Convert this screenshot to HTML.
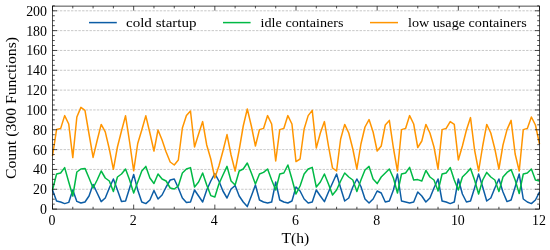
<!DOCTYPE html><html><head><meta charset="utf-8"><style>html,body{margin:0;padding:0;background:#fff;}svg{display:block;}text{font-family:"Liberation Serif",serif;fill:#000;stroke:none;}</style></head><body>
<svg width="550" height="250" viewBox="0 0 550 250">
<rect width="550" height="250" fill="#fff"/>
<g stroke="#b0b0b0" stroke-width="0.7" stroke-dasharray="2.4 1.3"><line x1="52.5" y1="189.27" x2="539.5" y2="189.27"/><line x1="52.5" y1="169.44" x2="539.5" y2="169.44"/><line x1="52.5" y1="149.61" x2="539.5" y2="149.61"/><line x1="52.5" y1="129.78" x2="539.5" y2="129.78"/><line x1="52.5" y1="109.95" x2="539.5" y2="109.95"/><line x1="52.5" y1="90.12" x2="539.5" y2="90.12"/><line x1="52.5" y1="70.29" x2="539.5" y2="70.29"/><line x1="52.5" y1="50.46" x2="539.5" y2="50.46"/><line x1="52.5" y1="30.63" x2="539.5" y2="30.63"/><line x1="52.5" y1="10.80" x2="539.5" y2="10.80"/></g>
<polyline fill="none" stroke="#0C5DA5" stroke-width="1.5" stroke-linejoin="round" stroke-linecap="butt" points="52.50,190.00 56.56,201.00 60.62,202.00 64.67,203.60 68.73,202.40 72.79,190.00 76.85,201.40 80.91,203.00 84.97,202.00 89.03,196.00 93.08,184.40 97.14,193.00 101.20,201.60 105.26,198.00 109.32,188.00 113.38,179.00 117.43,190.00 121.49,201.60 125.55,201.00 129.61,188.00 133.67,174.40 137.72,190.00 141.78,202.00 145.84,203.60 149.90,200.00 153.96,190.50 158.02,199.00 162.07,195.00 166.13,187.00 170.19,180.00 174.25,179.00 178.31,188.00 182.37,198.00 186.43,202.60 190.48,202.00 194.54,190.00 198.60,196.00 202.66,202.00 206.72,190.00 210.78,181.00 214.83,173.60 218.89,181.00 222.95,191.00 227.01,198.00 231.07,189.00 235.12,185.60 239.18,196.00 243.24,202.00 247.30,206.60 251.36,196.00 255.42,185.00 259.48,200.00 263.53,202.00 267.59,203.00 271.65,202.00 275.71,182.00 279.77,200.00 283.82,202.00 287.88,203.00 291.94,201.00 296.00,187.00 300.06,191.00 304.12,199.00 308.18,203.00 312.23,202.00 316.29,190.00 320.35,196.00 324.41,201.60 328.47,192.00 332.52,183.00 336.58,174.00 340.64,188.00 344.70,201.00 348.76,198.00 352.82,187.00 356.88,179.00 360.93,186.50 364.99,199.00 369.05,203.00 373.11,199.00 377.17,191.00 381.23,193.00 385.28,202.00 389.34,201.00 393.40,190.00 397.46,174.00 401.52,201.00 405.57,202.00 409.63,203.00 413.69,202.00 417.75,192.00 421.81,196.00 425.87,202.00 429.93,198.00 433.98,188.00 438.04,179.00 442.10,201.00 446.16,202.00 450.22,203.60 454.27,202.00 458.33,179.00 462.39,194.00 466.45,202.00 470.51,201.00 474.57,188.00 478.62,174.00 482.68,187.00 486.74,201.00 490.80,198.00 494.86,188.00 498.92,179.00 502.98,192.00 507.03,201.60 511.09,200.00 515.15,187.00 519.21,174.00 523.27,199.00 527.33,202.00 531.38,203.60 535.44,200.00 539.50,192.00"/>
<polyline fill="none" stroke="#00B945" stroke-width="1.5" stroke-linejoin="round" stroke-linecap="butt" points="52.50,190.00 56.56,174.00 60.62,173.00 64.67,167.60 68.73,182.00 72.79,196.00 76.85,172.00 80.91,169.00 84.97,168.40 89.03,178.00 93.08,188.00 97.14,180.00 101.20,171.00 105.26,178.00 109.32,181.00 113.38,191.60 117.43,177.00 121.49,174.00 125.55,169.00 129.61,180.00 133.67,193.00 137.72,182.00 141.78,171.00 145.84,166.40 149.90,178.00 153.96,183.50 158.02,174.00 162.07,179.00 166.13,181.00 170.19,188.00 174.25,189.00 178.31,186.00 182.37,173.00 186.43,169.00 190.48,167.60 194.54,187.00 198.60,182.00 202.66,173.00 206.72,185.00 210.78,195.60 214.83,197.00 218.89,184.00 222.95,175.00 227.01,166.40 231.07,181.00 235.12,185.00 239.18,171.00 243.24,169.00 247.30,163.00 251.36,173.00 255.42,184.00 259.48,174.00 263.53,172.40 267.59,169.00 271.65,180.00 275.71,190.00 279.77,174.00 283.82,173.00 287.88,165.00 291.94,179.00 296.00,194.00 300.06,186.00 304.12,174.00 308.18,169.00 312.23,167.40 316.29,187.00 320.35,182.00 324.41,174.00 328.47,184.00 332.52,195.00 336.58,190.00 340.64,181.00 344.70,173.00 348.76,177.00 352.82,180.00 356.88,191.60 360.93,180.00 364.99,170.00 369.05,166.40 373.11,179.00 377.17,183.60 381.23,177.00 385.28,173.00 389.34,169.00 393.40,178.00 397.46,193.00 401.52,174.00 405.57,173.00 409.63,167.40 413.69,180.00 417.75,179.60 421.81,181.00 425.87,170.40 429.93,177.00 433.98,180.00 438.04,191.00 442.10,174.00 446.16,173.00 450.22,167.60 454.27,180.00 458.33,190.00 462.39,177.00 466.45,173.00 470.51,168.40 474.57,180.00 478.62,194.00 482.68,180.00 486.74,172.40 490.80,177.00 494.86,180.00 498.92,191.60 502.98,177.00 507.03,172.40 511.09,169.60 515.15,180.00 519.21,193.60 523.27,174.00 527.33,173.00 531.38,169.00 535.44,180.00 539.50,181.00"/>
<polyline fill="none" stroke="#FF9500" stroke-width="1.5" stroke-linejoin="round" stroke-linecap="butt" points="52.50,156.00 56.56,129.60 60.62,128.60 64.67,115.60 68.73,124.00 72.79,157.60 76.85,117.00 80.91,107.40 84.97,110.40 89.03,134.00 93.08,157.40 97.14,140.50 101.20,124.40 105.26,131.80 109.32,149.00 113.38,169.30 117.43,147.00 121.49,131.00 125.55,115.80 129.61,142.00 133.67,170.80 137.72,143.50 141.78,130.00 145.84,115.80 149.90,133.00 153.96,151.00 158.02,130.00 162.07,140.00 166.13,152.00 170.19,162.00 174.25,165.00 178.31,160.00 182.37,128.00 186.43,115.60 190.48,111.00 194.54,147.00 198.60,134.00 202.66,121.60 206.72,145.00 210.78,159.00 214.83,178.00 218.89,166.00 222.95,151.00 227.01,134.60 231.07,155.00 235.12,171.00 239.18,150.00 243.24,126.00 247.30,109.00 251.36,126.00 255.42,146.00 259.48,129.60 263.53,128.40 267.59,115.60 271.65,124.00 275.71,161.00 279.77,129.60 283.82,128.40 287.88,115.60 291.94,124.00 296.00,161.60 300.06,159.00 304.12,129.00 308.18,115.60 312.23,110.40 316.29,148.00 320.35,133.00 324.41,121.60 328.47,146.00 332.52,168.00 336.58,171.00 340.64,139.00 344.70,124.40 348.76,133.00 352.82,149.00 356.88,169.00 360.93,144.00 364.99,127.00 369.05,119.60 373.11,132.00 377.17,151.00 381.23,146.00 385.28,125.00 389.34,120.40 393.40,148.00 397.46,171.00 401.52,129.60 405.57,128.40 409.63,115.60 413.69,124.00 417.75,147.50 421.81,141.00 425.87,124.40 429.93,133.00 433.98,147.00 438.04,169.00 442.10,129.60 446.16,128.40 450.22,121.60 454.27,124.40 458.33,160.00 462.39,146.00 466.45,130.00 470.51,117.60 474.57,150.00 478.62,171.00 482.68,146.00 486.74,124.40 490.80,133.00 494.86,149.00 498.92,169.00 502.98,145.00 507.03,129.60 511.09,120.40 515.15,154.00 519.21,171.00 523.27,129.60 527.33,128.40 531.38,117.00 535.44,125.00 539.50,144.00"/>
<path d="M52.5,209.10h4.5M539.5,209.10h-4.5M52.5,204.14h2.3M539.5,204.14h-2.3M52.5,199.19h2.3M539.5,199.19h-2.3M52.5,194.23h2.3M539.5,194.23h-2.3M52.5,189.27h4.5M539.5,189.27h-4.5M52.5,184.31h2.3M539.5,184.31h-2.3M52.5,179.35h2.3M539.5,179.35h-2.3M52.5,174.40h2.3M539.5,174.40h-2.3M52.5,169.44h4.5M539.5,169.44h-4.5M52.5,164.48h2.3M539.5,164.48h-2.3M52.5,159.52h2.3M539.5,159.52h-2.3M52.5,154.57h2.3M539.5,154.57h-2.3M52.5,149.61h4.5M539.5,149.61h-4.5M52.5,144.65h2.3M539.5,144.65h-2.3M52.5,139.69h2.3M539.5,139.69h-2.3M52.5,134.74h2.3M539.5,134.74h-2.3M52.5,129.78h4.5M539.5,129.78h-4.5M52.5,124.82h2.3M539.5,124.82h-2.3M52.5,119.86h2.3M539.5,119.86h-2.3M52.5,114.91h2.3M539.5,114.91h-2.3M52.5,109.95h4.5M539.5,109.95h-4.5M52.5,104.99h2.3M539.5,104.99h-2.3M52.5,100.03h2.3M539.5,100.03h-2.3M52.5,95.08h2.3M539.5,95.08h-2.3M52.5,90.12h4.5M539.5,90.12h-4.5M52.5,85.16h2.3M539.5,85.16h-2.3M52.5,80.20h2.3M539.5,80.20h-2.3M52.5,75.25h2.3M539.5,75.25h-2.3M52.5,70.29h4.5M539.5,70.29h-4.5M52.5,65.33h2.3M539.5,65.33h-2.3M52.5,60.38h2.3M539.5,60.38h-2.3M52.5,55.42h2.3M539.5,55.42h-2.3M52.5,50.46h4.5M539.5,50.46h-4.5M52.5,45.50h2.3M539.5,45.50h-2.3M52.5,40.54h2.3M539.5,40.54h-2.3M52.5,35.59h2.3M539.5,35.59h-2.3M52.5,30.63h4.5M539.5,30.63h-4.5M52.5,25.67h2.3M539.5,25.67h-2.3M52.5,20.71h2.3M539.5,20.71h-2.3M52.5,15.76h2.3M539.5,15.76h-2.3M52.5,10.80h4.5M539.5,10.80h-4.5M52.5,5.84h2.3M539.5,5.84h-2.3M52.50,209.1v-4.5M52.50,6.10v4.5M72.79,209.1v-2.3M72.79,6.10v2.3M93.08,209.1v-2.3M93.08,6.10v2.3M113.38,209.1v-2.3M113.38,6.10v2.3M133.67,209.1v-4.5M133.67,6.10v4.5M153.96,209.1v-2.3M153.96,6.10v2.3M174.25,209.1v-2.3M174.25,6.10v2.3M194.54,209.1v-2.3M194.54,6.10v2.3M214.83,209.1v-4.5M214.83,6.10v4.5M235.12,209.1v-2.3M235.12,6.10v2.3M255.42,209.1v-2.3M255.42,6.10v2.3M275.71,209.1v-2.3M275.71,6.10v2.3M296.00,209.1v-4.5M296.00,6.10v4.5M316.29,209.1v-2.3M316.29,6.10v2.3M336.58,209.1v-2.3M336.58,6.10v2.3M356.88,209.1v-2.3M356.88,6.10v2.3M377.17,209.1v-4.5M377.17,6.10v4.5M397.46,209.1v-2.3M397.46,6.10v2.3M417.75,209.1v-2.3M417.75,6.10v2.3M438.04,209.1v-2.3M438.04,6.10v2.3M458.33,209.1v-4.5M458.33,6.10v4.5M478.62,209.1v-2.3M478.62,6.10v2.3M498.92,209.1v-2.3M498.92,6.10v2.3M519.21,209.1v-2.3M519.21,6.10v2.3M539.50,209.1v-4.5M539.50,6.10v4.5" stroke="#000" stroke-width="0.7" fill="none"/>
<rect x="52.5" y="6.10" width="487.0" height="203.00" fill="none" stroke="#000" stroke-width="0.7"/>
<g font-size="13.9"><text x="47" y="214.10" text-anchor="end">0</text><text x="47" y="194.27" text-anchor="end">20</text><text x="47" y="174.44" text-anchor="end">40</text><text x="47" y="154.61" text-anchor="end">60</text><text x="47" y="134.78" text-anchor="end">80</text><text x="47" y="114.95" text-anchor="end">100</text><text x="47" y="95.12" text-anchor="end">120</text><text x="47" y="75.29" text-anchor="end">140</text><text x="47" y="55.46" text-anchor="end">160</text><text x="47" y="35.63" text-anchor="end">180</text><text x="47" y="15.80" text-anchor="end">200</text><text x="52.00" y="224.7" text-anchor="middle">0</text><text x="133.17" y="224.7" text-anchor="middle">2</text><text x="214.33" y="224.7" text-anchor="middle">4</text><text x="295.50" y="224.7" text-anchor="middle">6</text><text x="376.67" y="224.7" text-anchor="middle">8</text><text x="457.83" y="224.7" text-anchor="middle">10</text><text x="539.00" y="224.7" text-anchor="middle">12</text></g>
<text x="281.5" y="243" font-size="13.9" textLength="27.8" lengthAdjust="spacingAndGlyphs">T(h)</text>
<text transform="translate(15.5,179) rotate(-90)" x="0" y="0" font-size="13.9" textLength="142" lengthAdjust="spacingAndGlyphs">Count (300 Functions)</text>
<line x1="89" y1="22.6" x2="116.8" y2="22.6" stroke="#0C5DA5" stroke-width="1.5"/><line x1="223" y1="22.6" x2="250.6" y2="22.6" stroke="#00B945" stroke-width="1.5"/><line x1="370" y1="22.6" x2="398" y2="22.6" stroke="#FF9500" stroke-width="1.5"/><text x="126" y="27" font-size="13.3" textLength="70.6" lengthAdjust="spacingAndGlyphs">cold startup</text><text x="260.6" y="27" font-size="13.3" textLength="83" lengthAdjust="spacingAndGlyphs">idle containers</text><text x="408" y="27" font-size="13.3" textLength="118.7" lengthAdjust="spacingAndGlyphs">low usage containers</text>
</svg></body></html>
